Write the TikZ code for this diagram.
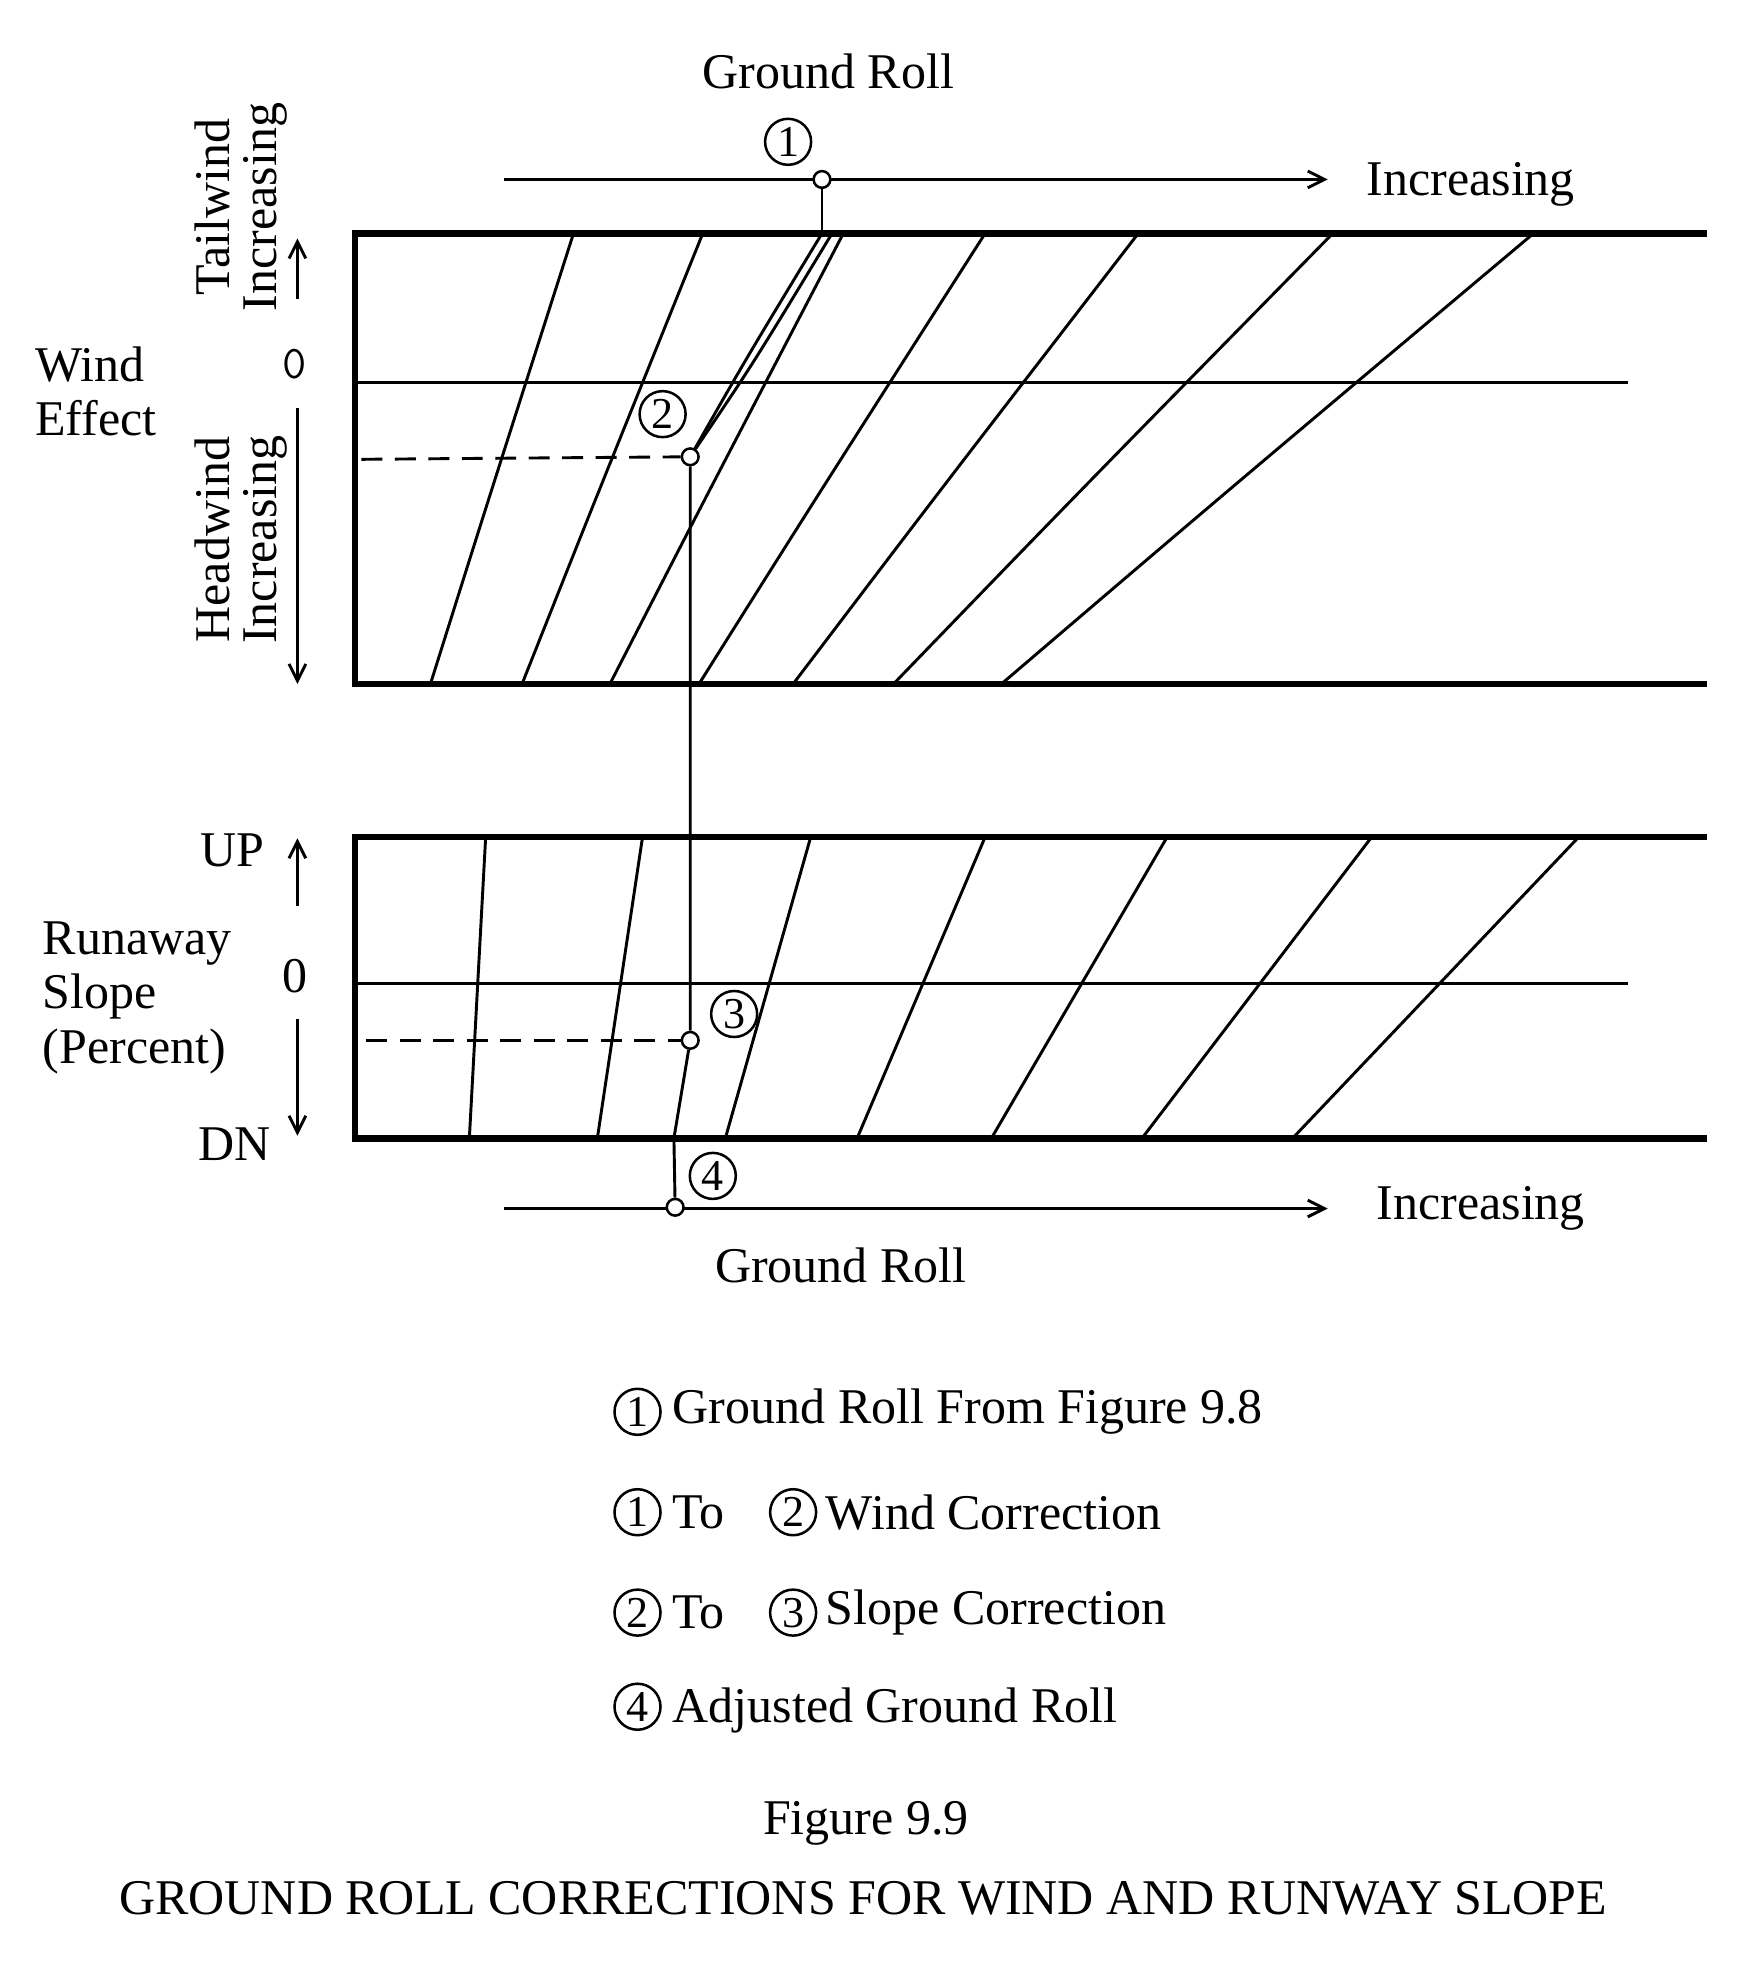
\documentclass[tikz,border=0pt]{standalone}
\usetikzlibrary{arrows.meta}
\usepackage{fontspec}
\setmainfont{Liberation Serif}
\begin{document}
\begin{tikzpicture}[x=0.3mm,y=-0.3mm,
  thick box/.style={line width=1.6mm},
  thin/.style={line width=0.7mm},
  arr/.style={line width=0.7mm,-{Straight Barb[length=4mm,width=4mm]}},
  lab/.style={font=\fontsize{34}{40}\selectfont},
  num/.style={circle,draw,line width=0.6mm,inner sep=0pt,minimum size=11mm,font=\fontsize{30}{30}\selectfont},
  dot/.style={circle,draw,line width=0.6mm,fill=white,inner sep=0pt,minimum size=4mm}]
\useasboundingbox (0,0) rectangle (1385,1569);
% upper box
\draw[thick box] (1360,186) -- (283,186) -- (283,545) -- (1360,545);
\draw[thin] (283,305) -- (1297,305);
\foreach \a/\b in {343/457,416/560,486/672,557/785,632/907,712/1062,798/1222}
  \draw[thin] (\a,545) .. controls ({\a+(\b-\a)*0.4},400) .. (\b,186);
% lower box
\draw[thick box] (1360,667) -- (283,667) -- (283,907) -- (1360,907);
\draw[thin] (283,784) -- (1297,784);
\foreach \a/\b in {374/387,476/512,578/646,683/785,790/930,910/1093,1030/1258}
  \draw[thin] (\a,907) -- (\b,667);
% arrows
\draw[arr] (402,143) -- (1058,143);
\draw[arr] (402,963) -- (1058,963);
\node[lab] at (660,57) {Ground Roll};
\node[lab] at (1172,147) {Increasing};
\node[lab] at (670,1008) {Ground Roll};
\node[lab] at (1180,963) {Increasing};
% construction path
\node[dot] (p1) at (655,143) {};
\node[dot] (p2) at (550,364) {};
\node[dot] (p3) at (550,829) {};
\node[dot] (p4) at (538,962) {};
\coordinate (t1) at (655,186);
\coordinate (b4) at (537,907);
\coordinate (d2) at (288,366);
\coordinate (d3) at (292,829);
\draw[thin] (p1) -- (t1);
\draw[thin] (t1) -- (663,186) .. controls (600,290) .. (p2);
\draw[thin] (t1) .. controls (595,285) .. (p2);
\draw[thin] (p2) -- (p3) -- (b4) -- (p4);
\draw[thin,dash pattern=on 5mm off 3mm] (d2) -- (p2);
\draw[thin,dash pattern=on 5mm off 3mm] (d3) -- (p3);
\node[num] at (628,113) {1};
\node[num] at (528,330) {2};
\node[num] at (585,808) {3};
\node[num] at (568,937) {4};
% left axis upper
\node[font=\ttfamily\fontsize{32}{32}\selectfont] (z1) at (235,290) {0};
\coordinate (ut) at (237,190);
\coordinate (ub) at (237,545);
\draw[arr] (237,238) -- (ut);
\draw[arr] (237,325) -- (ub);
\node[lab,rotate=90,align=center] at (192,165) {Tailwind\\[-8pt]Increasing};
\node[lab,rotate=90,align=center] at (192,430) {Headwind\\[-8pt]Increasing};
\node[lab,align=left,anchor=west] at (24,312) {Wind\\[-3pt]Effect};
% left axis lower
\node[lab] at (235,778) {0};
\draw[arr] (237,722) -- (237,668);
\draw[arr] (237,812) -- (237,905);
\node[lab] at (185,678) {UP};
\node[lab] at (187,912) {DN};
\node[lab,align=left,anchor=west] at (30,795) {Runaway\\[-3pt]Slope\\[-3pt](Percent)};
% legend
\node[num] at (508,1125) {1}; \node[lab,anchor=west] at (532,1125) {Ground Roll From Figure 9.8};
\node[num] at (508,1205) {1}; \node[lab,anchor=west] at (532,1205) {To};
\node[num] at (632,1205) {2}; \node[lab,anchor=west] at (654,1205) {Wind Correction};
\node[num] at (508,1285) {2}; \node[lab,anchor=west] at (532,1285) {To};
\node[num] at (632,1285) {3}; \node[lab,anchor=west] at (654,1285) {Slope Correction};
\node[num] at (508,1360) {4}; \node[lab,anchor=west] at (532,1363) {Adjusted Ground Roll};
\node[lab] at (690,1453) {Figure 9.9};
\node[lab] at (688,1513) {GROUND ROLL CORRECTIONS FOR WIND AND RUNWAY SLOPE};
\end{tikzpicture}
\end{document}
